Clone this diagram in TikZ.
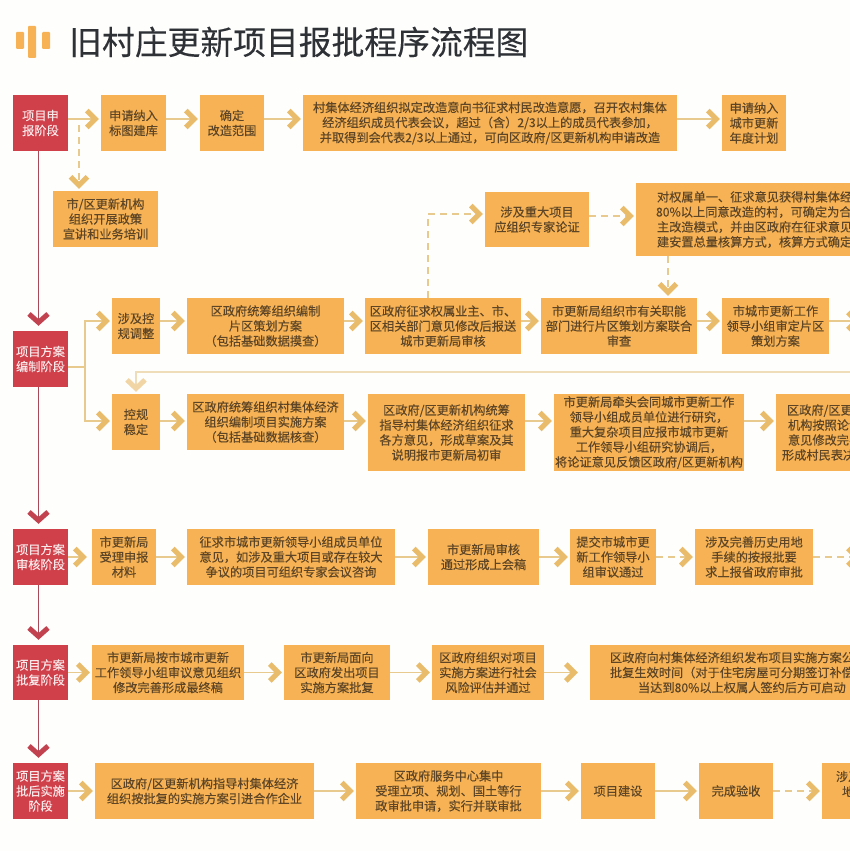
\documentclass[tikz,border=0pt]{standalone}
\usepackage{fontspec}
\usetikzlibrary{arrows.meta}
\newfontfamily\cjk[FakeBold=0.25]{Noto Sans CJK SC}
\newfontfamily\cjkt[FakeBold=0.2]{Noto Sans CJK SC}
\definecolor{bg}{HTML}{FEFEFC}
\definecolor{boxc}{HTML}{F6B254}
\definecolor{redc}{HTML}{D0404A}
\definecolor{inkc}{HTML}{5E4526}
\definecolor{titlec}{HTML}{2E3136}
\definecolor{linec}{HTML}{E8C98E}
\definecolor{chev}{HTML}{E9BC6C}
\definecolor{palec}{HTML}{EEDDB8}
\definecolor{palechev}{HTML}{F2D5A4}
\definecolor{redline}{HTML}{A84A58}
\definecolor{redchev}{HTML}{C2434F}
\tikzset{
  boxn/.style={fill=boxc,text=inkc,inner sep=0pt,align=center,font=\fontsize{12.2}{15}\selectfont\cjk},
  stagen/.style={fill=redc,text=white!88!redc,inner sep=0pt,align=center,font=\fontsize{12.2}{15}\selectfont\cjk},
  clipn/.style={boxn,align=left,text width=300pt},
  flow/.style={draw=linec,line width=1.5pt,shorten >=2pt,-{Straight Barb[length=8.5pt,width=17pt,line width=5pt,color=chev]}},
  dflow/.style={flow,dash pattern=on 7pt off 5pt},
  feedback/.style={draw=palec,line width=1.5pt,shorten >=2pt,-{Straight Barb[length=8.5pt,width=18pt,line width=5pt,color=palechev]}},
  stageflow/.style={draw=redline,line width=1.8pt,shorten >=5pt,-{Straight Barb[length=8.5pt,width=19pt,line width=5pt,color=redchev]}}
}
\newcommand\bx[7]{\node[#1,minimum width={(#5-#3)*1pt},minimum height={(#6-#4)*1pt}] (#2) at ({(#3+#5)/2},{(#4+#6)/2}) {#7};}
\newcommand\off[1]{\hspace*{#1pt}}
\begin{document}
\begin{tikzpicture}[x=1pt,y=-1pt]
\useasboundingbox (0,0) rectangle (850,851);
\clip (0,0) rectangle (850,851);
\fill[bg] (0,0) rectangle (850,851);
% logo
\fill[boxc,rounded corners=1pt] (16,32) rectangle (24,49);
\fill[boxc,rounded corners=1pt] (28,26) rectangle (36,58);
\fill[boxc,rounded corners=1pt] (42,32) rectangle (50,49);
\node[anchor=west,inner sep=0pt,text=titlec,font=\fontsize{32.8}{36}\selectfont\cjkt] (title) at (69,42) {旧村庄更新项目报批程序流程图};
% stages
\bx{stagen}{s1}{13}{95}{68}{151}{项目申\\报阶段}
\bx{stagen}{s2}{13}{331}{68}{387}{项目方案\\编制阶段}
\bx{stagen}{s3}{13}{529}{68}{585}{项目方案\\审核阶段}
\bx{stagen}{s4}{13}{645}{68}{700}{项目方案\\批复阶段}
\bx{stagen}{s5}{13}{763}{68}{819}{项目方案\\批后实施\\阶段}
% row 1
\bx{boxn}{a1}{101}{95}{166}{151}{申请纳入\\标图建库}
\bx{boxn}{a2}{200}{95}{264}{151}{确定\\改造范围}
\bx{boxn}{a3}{303}{95}{677}{151}{村集体经济组织拟定改造意向书征求村民改造意愿，召开农村集体\\经济组织成员代表会议，超过（含）2/3以上的成员代表参加，\\并取得到会代表2/3以上通过，可向区政府/区更新机构申请改造}
\bx{boxn}{a4}{722}{95}{786}{151}{申请纳入\\城市更新\\年度计划}
\bx{boxn}{a5}{53}{191}{158}{247}{市/区更新机构\\组织开展政策\\宣讲和业务培训}
% upper branch
\bx{boxn}{b5}{485}{192}{589}{247}{涉及重大项目\\应组织专家论证}
\bx{clipn}{b6}{636}{183}{936}{256}{\off{21}对权属单一、征求意见获得村集体经\\\off{20}80\%以上同意改造的村，可确定为合\\\off{21}主改造模式，并由区政府在征求意见\\\off{21}建安置总量核算方式，核算方式确定}
\bx{boxn}{b0}{112}{298}{160}{354}{涉及控\\规调整}
\bx{boxn}{b1}{187}{298}{344}{354}{区政府统筹组织编制\\片区策划方案\\（包括基础数据摸查）}
\bx{boxn}{b2}{365}{298}{521}{354}{区政府征求权属业主、市、\\区相关部门意见修改后报送\\城市更新局审核}
\bx{boxn}{b3}{541}{298}{697}{354}{市更新局组织市有关职能\\部门进行片区策划方案联合\\审查}
\bx{boxn}{b4}{722}{298}{829}{354}{市城市更新工作\\领导小组审定片区\\策划方案}
% lower branch
\bx{boxn}{c0}{112}{394}{160}{450}{控规\\稳定}
\bx{boxn}{c1}{187}{394}{344}{450}{区政府统筹组织村集体经济\\组织编制项目实施方案\\（包括基础数据核查）}
\bx{boxn}{c2}{368}{394}{525}{471}{区政府/区更新机构统筹\\指导村集体经济组织征求\\各方意见，形成草案及其\\说明报市更新局初审}
\bx{boxn}{c3}{554}{394}{744}{471}{市更新局牵头会同城市更新工作\\领导小组成员单位进行研究，\\重大复杂项目应报市城市更新\\工作领导小组研究协调后，\\将论证意见反馈区政府/区更新机构}
\bx{clipn}{c4}{776}{394}{1076}{471}{\off{11}区政府/区更新\\\off{12}机构按照论证\\\off{12}意见修改完善\\\off{6}形成村民表决}
% review row
\bx{boxn}{d1}{92}{529}{156}{585}{市更新局\\受理申报\\材料}
\bx{boxn}{d2}{187}{529}{395}{585}{征求市城市更新领导小组成员单位\\意见，如涉及重大项目或存在较大\\争议的项目可组织专家会议咨询}
\bx{boxn}{d3}{428}{529}{539}{585}{市更新局审核\\通过形成上会稿}
\bx{boxn}{d4}{570}{529}{656}{585}{提交市城市更\\新工作领导小\\组审议通过}
\bx{boxn}{d5}{695}{529}{813}{585}{涉及完善历史用地\\手续的按报批要\\求上报省政府审批}
% approval row
\bx{boxn}{e1}{92}{645}{244}{700}{市更新局按市城市更新\\工作领导小组审议意见组织\\修改完善形成最终稿}
\bx{boxn}{e2}{284}{645}{390}{700}{市更新局面向\\区政府发出项目\\实施方案批复}
\bx{boxn}{e3}{432}{645}{544}{700}{区政府组织对项目\\实施方案进行社会\\风险评估并通过}
\bx{clipn}{e4}{590}{645}{890}{700}{\off{20}区政府向村集体经济组织发布项目实施方案公\\\off{20}批复生效时间（对于住宅房屋可分期签订补偿\\\off{48}当达到80\%以上权属人签约后方可启动}
% implementation row
\bx{boxn}{f1}{95}{763}{314}{819}{区政府/区更新机构指导村集体经济\\组织按批复的实施方案引进合作企业}
\bx{boxn}{f2}{356}{763}{541}{819}{区政府服务中心集中\\受理立项、规划、国土等行\\政审批申请，实行并联审批}
\bx{boxn}{f3}{581}{763}{655}{819}{项目建设}
\bx{boxn}{f4}{699}{763}{773}{819}{完成验收}
\bx{clipn}{f5}{822}{763}{1122}{819}{\off{14}涉及\\\off{20}地\\~}
% helper coordinates
\coordinate (r1) at (0,119);
\coordinate (r2) at (0,321);
\coordinate (r3) at (0,421);
\coordinate (r6) at (0,216);
\coordinate (sx) at (38.5,0);
\coordinate (j0) at (79,125);
\coordinate (j2a) at (85,367);
\coordinate (up) at (428,214);
\coordinate (dn) at (668,0);
\coordinate (endb) at (860,321);
\coordinate (endd) at (860,557);
\coordinate (fbs) at (860,372);
% stage arrows
\draw[stageflow] (sx |- s1.south) -- (sx |- s2.north);
\draw[stageflow] (sx |- s2.south) -- (sx |- s3.north);
\draw[stageflow] (sx |- s3.south) -- (sx |- s4.north);
\draw[stageflow] (sx |- s4.south) -- (sx |- s5.north);
% row 1
\draw[flow] (s1.east |- r1) -- (a1.west |- r1);
\draw[flow] (a1.east |- r1) -- (a2.west |- r1);
\draw[flow] (a2.east |- r1) -- (a3.west |- r1);
\draw[flow] (a3.east |- r1) -- (a4.west |- r1);
\draw[dflow] (j0) -- (j0 |- a5.north);
% branches
\draw[flow] (s2.east |- j2a) -- (j2a) |- (b0.west |- r2);
\draw[flow] (j2a) |- (c0.west |- r3);
\draw[flow] (b0.east |- r2) -- (b1.west |- r2);
\draw[flow] (b1.east |- r2) -- (b2.west |- r2);
\draw[flow] (b2.east |- r2) -- (b3.west |- r2);
\draw[flow] (b3.east |- r2) -- (b4.west |- r2);
\draw[flow,shorten >=0pt] (b4.east |- r2) -- (endb);
\draw[dflow] (up |- b2.north) -- (up) -- (b5.west |- up);
\draw[dflow] (b5.east |- r6) -- (b6.west |- r6);
\draw[dflow] (dn |- b6.south) -- (dn |- b3.north);
\draw[feedback] (fbs) -| (c0.north);
\draw[flow] (c0.east |- r3) -- (c1.west |- r3);
\draw[flow] (c1.east |- r3) -- (c2.west |- r3);
\draw[flow] (c2.east |- r3) -- (c3.west |- r3);
\draw[flow] (c3.east |- r3) -- (c4.west |- r3);
% review row
\draw[flow,shorten >=5pt] (s3.east) -- (d1.west);
\draw[flow] (d1.east) -- (d2.west);
\draw[flow] (d2.east) -- (d3.west);
\draw[flow] (d3.east) -- (d4.west);
\draw[dflow] (d4.east) -- (d5.west);
\draw[dflow,shorten >=0pt] (d5.east) -- (endd);
% approval row
\draw[flow] (s4.east) -- (e1.west);
\draw[flow] (e1.east) -- (e2.west);
\draw[flow] (e2.east) -- (e3.west);
\draw[flow,shorten >=12pt] (e3.east) -- (e4.west);
% implementation row
\draw[flow] (s5.east) -- (f1.west);
\draw[flow] (f1.east) -- (f2.west);
\draw[flow] (f2.east) -- (f3.west);
\draw[flow] (f3.east) -- (f4.west);
\draw[dflow] (f4.east) -- (f5.west);
\end{tikzpicture}
\end{document}
